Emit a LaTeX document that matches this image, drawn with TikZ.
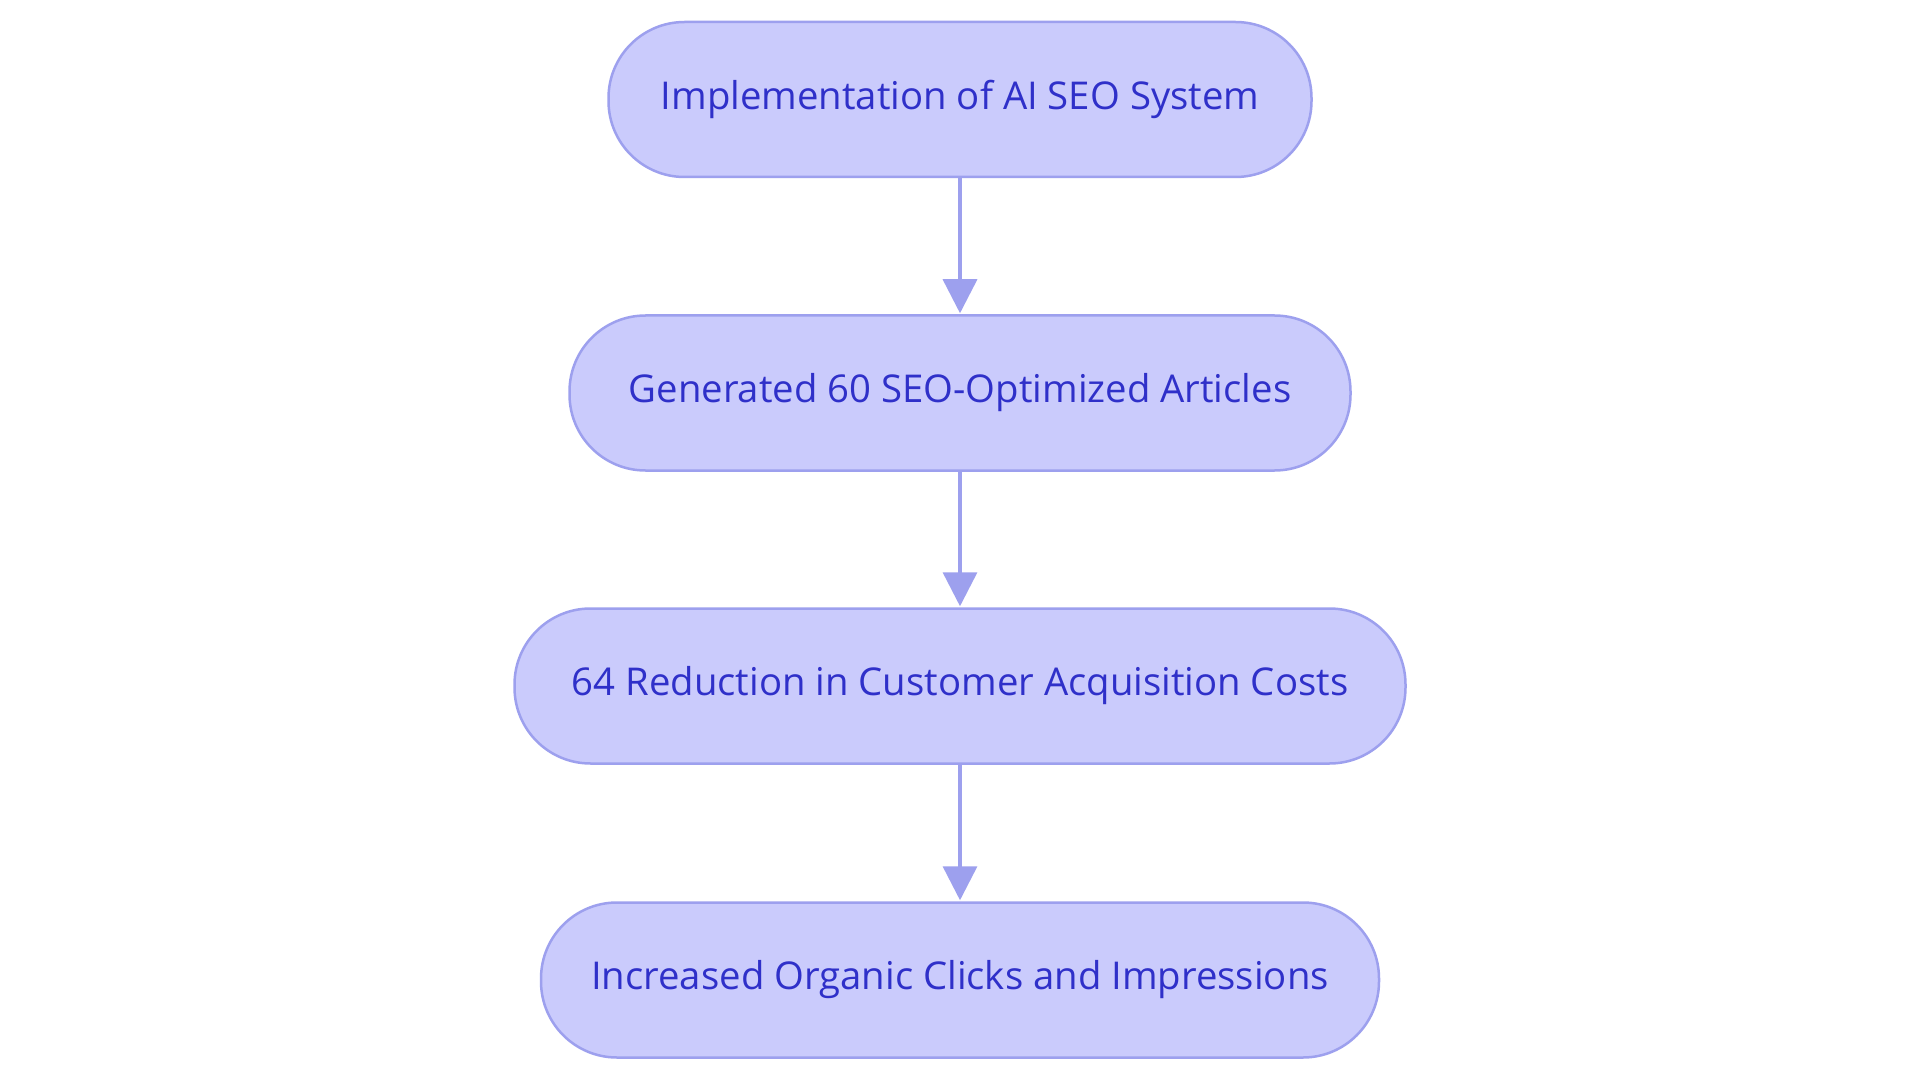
\documentclass[tikz,border=0pt]{standalone}
\usepackage{fontspec}
\setmainfont{Open Sans}
\usetikzlibrary{arrows.meta}
\definecolor{boxfill}{HTML}{CACBFC}
\definecolor{boxline}{HTML}{9DA0EE}
\definecolor{txt}{HTML}{2F30C9}
\tikzset{
  stadium/.style={draw=boxline, fill=boxfill, line width=2.5pt, rounded corners=76pt,
    minimum height=155pt, inner sep=0pt, text=txt, font=\fontsize{38.3}{46}\selectfont},
  flow/.style={draw=boxline, line width=3.5pt, -{Triangle[length=34pt,width=34pt]}, shorten >=1pt}
}
\begin{document}
\begin{tikzpicture}[x=1pt,y=-1pt]
\useasboundingbox[fill=white] (0,0) rectangle (1920,1083);
\node[stadium, minimum width=703pt] (n1) at (960,99.5) {Implementation of AI SEO System};
\node[stadium, minimum width=781pt] (n2) at (960,393) {Generated 60 SEO-Optimized Articles};
\node[stadium, minimum width=891pt] (n3) at (960,686) {64 Reduction in Customer Acquisition Costs};
\node[stadium, minimum width=838pt] (n4) at (960,980) {Increased Organic Clicks and Impressions};
\draw[flow] (n1) -- (n2);
\draw[flow] (n2) -- (n3);
\draw[flow] (n3) -- (n4);
\end{tikzpicture}
\end{document}
